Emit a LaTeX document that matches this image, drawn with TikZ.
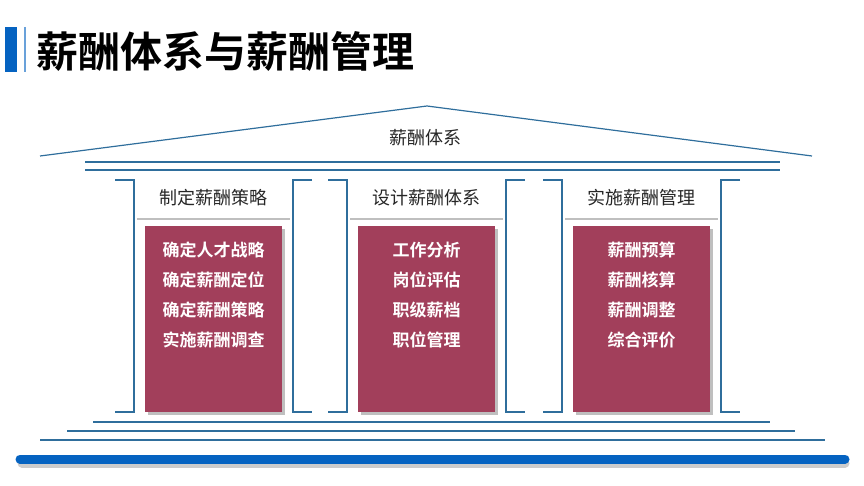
\documentclass[tikz,border=0pt]{standalone}
\usepackage{fontspec}
\newfontfamily\cjk{Noto Sans CJK SC}
\newfontfamily\cjkb{Noto Sans CJK SC Bold}
\begin{document}
\begin{tikzpicture}[x=1pt,y=-1pt,
  ln/.style={draw=lineblue,line width=1.2pt},
  box/.style={fill=boxred,minimum width=137pt,minimum height=186pt,anchor=north west,inner sep=0pt},
  item/.style={text=white,font=\cjkb\fontsize{17}{20}\selectfont},
  ctitle/.style={text=black!85,font=\cjk\fontsize{18}{20}\selectfont}]
\definecolor{lineblue}{HTML}{2F6E9C}
\definecolor{boxred}{HTML}{A23F5B}
\definecolor{barblue}{HTML}{0563C1}
\useasboundingbox (0,0) rectangle (864,486);
% title
\fill[barblue] (5,27) rectangle (17,72);
\draw[barblue!60,line width=1.2pt] (25,27) -- (25,72);
\node[anchor=west,inner sep=0pt,font=\cjkb\fontsize{42}{46}\selectfont] (title) at (36,52) {薪酬体系与薪酬管理};
% roof
\coordinate (rl) at (40,156); \coordinate (ra) at (427,106); \coordinate (rr) at (812,156);
\draw[ln] (rl) -- (ra) -- (rr);
\node[ctitle] (roof) at (425,138) {薪酬体系};
\draw[ln] (85,162) -- (780,162);
\draw[ln] (85,170) -- (780,170);
% columns
\foreach \x/\n/\t/\a/\b/\c/\d in {
  145/c1/制定薪酬策略/确定人才战略/确定薪酬定位/确定薪酬策略/实施薪酬调查,
  358/c2/设计薪酬体系/工作分析/岗位评估/职级薪档/职位管理,
  573/c3/实施薪酬管理/薪酬预算/薪酬核算/薪酬调整/综合评价}{
  \draw[ln] (\x-30,180) -- (\x-11,180) -- (\x-11,412) -- (\x-30,412);
  \draw[ln] (\x+167,180) -- (\x+148,180) -- (\x+148,412) -- (\x+167,412);
  \node[ctitle] (\n t) at (\x+68.5,198) {\t};
  \draw[black!25,line width=2pt] (\x-8,219) -- (\x+145,219);
  \fill[black!25] (\x+3,229) rectangle (\x+140,415);
  \node[box] (\n) at (\x,226) {};
  \node[item] (\n a) at (\x+68.5,250) {\a};
  \node[item] (\n b) at (\x+68.5,280) {\b};
  \node[item] (\n c) at (\x+68.5,310) {\c};
  \node[item] (\n d) at (\x+68.5,340) {\d};
}
% base
\draw[ln] (93,422) -- (770,422);
\draw[ln] (67,431) -- (795,431);
\draw[ln] (40,440) -- (825,440);
\draw[black!20,line width=9pt,line cap=round] (22,463) -- (845,463);
\draw[barblue,line width=9pt,line cap=round] (20,459) -- (845,459);
\end{tikzpicture}
\end{document}
